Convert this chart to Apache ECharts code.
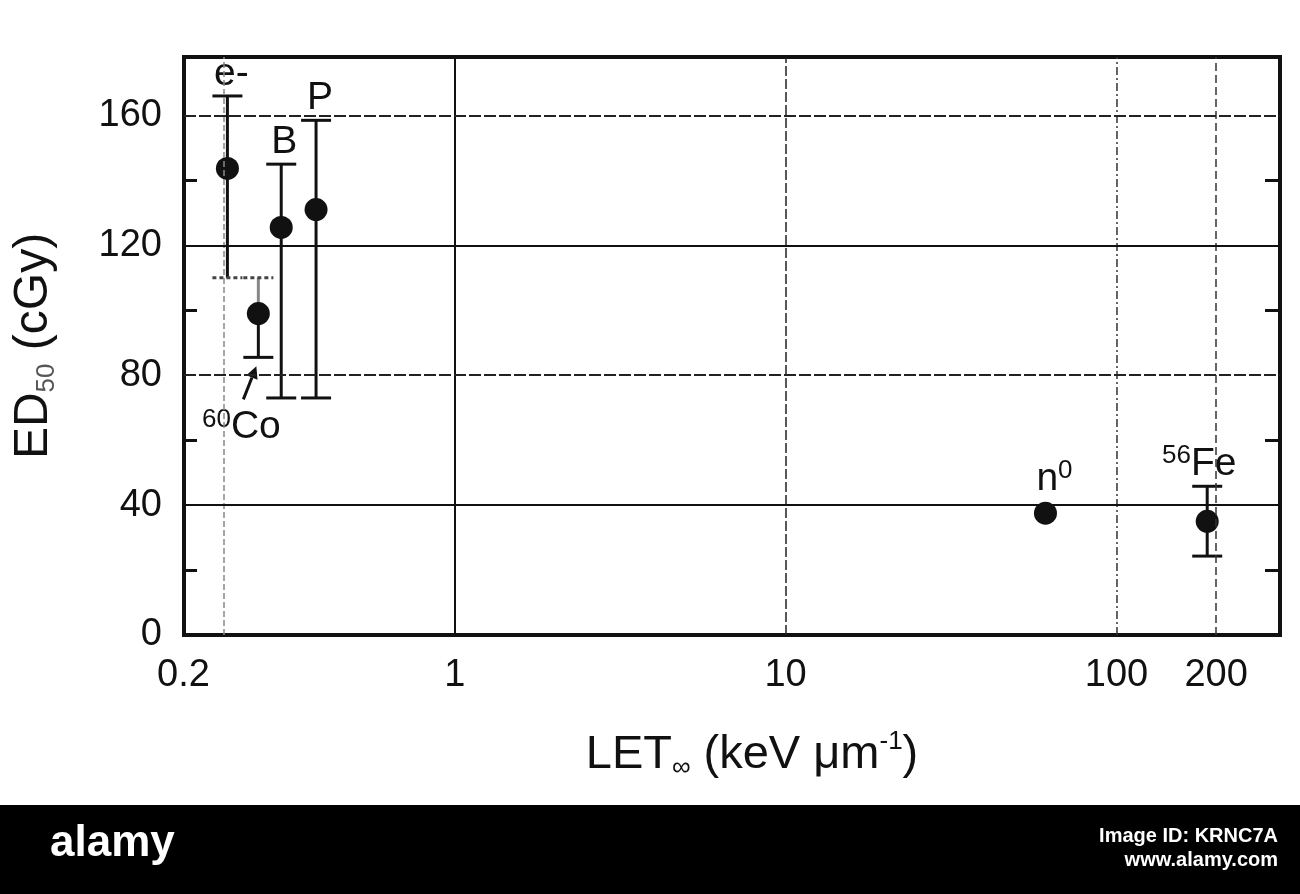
<!DOCTYPE html>
<html>
<head>
<meta charset="utf-8">
<script src="https://cdn.jsdelivr.net/npm/echarts@6/dist/echarts.min.js"></script>
<style>html,body{margin:0;padding:0;background:#fff;}#chart{width:1300px;height:894px;}</style>
</head>
<body>
<div id="chart"></div>
<script>
// ---- data ----
const species = ['e-', '60Co', 'B', 'P', 'n0', '56Fe'];
const letValues = [0.2056, 0.255, 0.299, 0.381, 61, 188];
const ed50Values = [143.7, 99, 125.5, 131, 37.5, 35];
const errLowValues = [110, 85.5, 73, 73, null, 24.3];
const errHighValues = [166, 110, 145, 158.5, null, 45.8];
const pointLabels = ['e-', '{sup|60}Co', 'B', 'P', 'n{sup|0}', '{sup|56}Fe'];
const xTickValues = [0.2, 1, 10, 100, 200];
const yTickValues = [0, 40, 80, 120, 160];
const yMinorTicks = [20, 60, 100, 140];
const xGridValues = [0.2, 1, 10, 100, 200];
const yGridValues = [40, 80, 120, 160];

// ---- styles ----
const FONT = '"Liberation Sans", Arial, Helvetica, sans-serif';
const INK = '#111';
const xGridStyles = [
  {color: '#888', width: 1.5, type: [6, 3]},
  {color: INK, width: 2, type: 'solid'},
  {color: '#222', width: 1.5, type: [10, 3]},
  {color: '#333', width: 1.5, type: [8, 3, 2, 3]},
  {color: '#333', width: 1.5, type: [8, 4]}
];
const yGridStyles = [
  {color: INK, width: 2, type: 'solid'},
  {color: '#222', width: 2, type: [12, 3]},
  {color: INK, width: 2, type: 'solid'},
  {color: '#222', width: 2, type: [12, 3]}
];

const errData = letValues.map((x, i) => [
  x, ed50Values[i],
  errLowValues[i] == null ? '-' : errLowValues[i],
  errHighValues[i] == null ? '-' : errHighValues[i]
]);
const dotData = letValues.map((x, i) => [x, ed50Values[i]]);

const labelRich = {
  sup: {fontSize: 26, fontFamily: FONT, color: INK, verticalAlign: 'top', lineHeight: 26}
};

function renderItem(params, api) {
  const i = params.dataIndex;
  const name = species[i];
  const x = api.value(0), y = api.value(1), lo = api.value(2), hi = api.value(3);
  const c = api.coord([x, y]);
  const children = [];
  const capHalf = 15;
  let topY = c[1] - 12;
  let pl = null;
  if (!isNaN(lo) && !isNaN(hi)) {
    pl = api.coord([x, lo]);
    const ph = api.coord([x, hi]);
    children.push({type: 'line', shape: {x1: c[0], y1: c[1], x2: c[0], y2: ph[1]},
      style: {stroke: name === '60Co' ? '#888' : INK, lineWidth: 3}});
    children.push({type: 'line', shape: {x1: c[0], y1: c[1], x2: c[0], y2: pl[1]},
      style: {stroke: INK, lineWidth: 3}});
    const dashedLow = name === 'e-';
    const dashedHigh = name === '60Co';
    children.push({type: 'line', shape: {x1: c[0] - capHalf, y1: ph[1], x2: c[0] + capHalf, y2: ph[1]},
      style: {stroke: dashedHigh ? '#444' : INK, lineWidth: 3, lineDash: dashedHigh ? [4, 3] : null}});
    children.push({type: 'line', shape: {x1: c[0] - capHalf, y1: pl[1], x2: c[0] + capHalf, y2: pl[1]},
      style: {stroke: dashedLow ? '#444' : INK, lineWidth: 3, lineDash: dashedLow ? [4, 3] : null}});
    topY = ph[1];
  }
  const textStyle = {
    text: pointLabels[i], fill: INK, font: '39px ' + FONT,
    align: 'center', lineHeight: 42, rich: labelRich
  };
  if (name === '60Co') {
    // label below with arrow pointing at the lower cap
    const bx = c[0], by = pl[1];
    children.push({type: 'text', x: bx - 17, y: by + 70, style: Object.assign({}, textStyle, {verticalAlign: 'middle'})});
    const x1 = bx - 15, y1 = by + 42, x2 = bx - 2, y2 = by + 9;
    const ang = Math.atan2(y2 - y1, x2 - x1);
    const ah = 12, aw = 6;
    const bxh = x2 - ah * Math.cos(ang), byh = y2 - ah * Math.sin(ang);
    children.push({type: 'line', shape: {x1: x1, y1: y1, x2: bxh, y2: byh}, style: {stroke: INK, lineWidth: 3}});
    children.push({type: 'polygon', shape: {points: [
      [x2, y2],
      [bxh + aw * Math.sin(ang), byh - aw * Math.cos(ang)],
      [bxh - aw * Math.sin(ang), byh + aw * Math.cos(ang)]
    ]}, style: {fill: INK}});
  } else {
    let dx = 0;
    if (name === 'n0') dx = 9;
    if (name === '56Fe') dx = -8;
    if (name === 'P') dx = 4;
    if (name === 'B') dx = 3;
    if (name === 'e-') dx = 4;
    children.push({type: 'text', x: c[0] + dx, y: topY - 1, style: Object.assign({}, textStyle, {verticalAlign: 'bottom'})});
  }
  return {type: 'group', children: children};
}

const chart = echarts.init(document.getElementById('chart'), null, {renderer: 'canvas'});
const option = {
  backgroundColor: '#fff',
  animation: false,
  grid: {left: 180, top: 57, right: 20, bottom: 259, show: true, borderColor: INK, borderWidth: 4, backgroundColor: 'transparent'},
  xAxis: {
    type: 'log', logBase: 10, min: 0.152, max: 312,
    axisLine: {show: false}, axisTick: {show: false}, splitLine: {show: false}, minorTick: {show: false},
    axisLabel: {
      customValues: xTickValues, margin: 22, color: INK, fontSize: 38, fontFamily: FONT,
      formatter: function (v) {
        if (Math.abs(v - 0.2) < 1e-6) return '{l|0.2}';
        return String(Math.round(v));
      },
      rich: {l: {fontSize: 38, fontFamily: FONT, color: INK, padding: [0, 80, 0, 0]}}
    },
    name: 'LET{sub|∞} (keV μm{sup|-1})', nameLocation: 'middle', nameGap: 94,
    nameTextStyle: {
      fontSize: 47, fontFamily: FONT, color: INK, lineHeight: 52, padding: [0, 0, 0, 40],
      rich: {
        sub: {fontSize: 26, fontFamily: FONT, color: INK, verticalAlign: 'bottom', lineHeight: 28},
        sup: {fontSize: 26, fontFamily: FONT, color: INK, verticalAlign: 'top', lineHeight: 28}
      }
    }
  },
  yAxis: [{
    type: 'value', min: 0, max: 178,
    axisLine: {show: false},
    axisTick: {show: true, inside: true, length: 13, customValues: yMinorTicks, lineStyle: {color: INK, width: 3}},
    splitLine: {show: false},
    axisLabel: {customValues: yTickValues, margin: 22, color: INK, fontSize: 38, fontFamily: FONT},
    name: 'ED{sub|50} (cGy)', nameLocation: 'middle', nameGap: 124, nameRotate: 90,
    nameTextStyle: {
      fontSize: 48, fontFamily: FONT, color: INK, lineHeight: 52,
      rich: {sub: {fontSize: 26, fontFamily: FONT, color: '#555', verticalAlign: 'bottom', lineHeight: 28}}
    }
  }, {
    type: 'value', min: 0, max: 178, position: 'right',
    axisLine: {show: false},
    axisTick: {show: true, inside: true, length: 15, customValues: yMinorTicks, lineStyle: {color: INK, width: 3}},
    splitLine: {show: false},
    axisLabel: {show: false}
  }],
  series: [{
    type: 'scatter', name: 'grid', data: [], silent: true,
    markLine: {
      silent: true, symbol: ['none', 'none'], label: {show: false}, animation: false,
      data: xGridValues.map((v, k) => ({xAxis: v, lineStyle: xGridStyles[k]}))
        .concat(yGridValues.map((v, k) => ({yAxis: v, lineStyle: yGridStyles[k]})))
    }
  }, {
    type: 'custom', name: 'error', renderItem: renderItem, data: errData, z: 3,
    encode: {x: 0, y: 1}, silent: true
  }, {
    type: 'scatter', name: 'ED50', data: dotData, symbol: 'circle', symbolSize: 23, z: 4,
    itemStyle: {color: INK, opacity: 1}
  }],
  graphic: [
    {type: 'rect', left: 0, top: 805, shape: {width: 1300, height: 89}, style: {fill: '#000'}, z: 10},
    {type: 'text', left: 50, top: 822, style: {text: 'alamy', fill: '#fff', font: 'bold 44px ' + FONT}, z: 11},
    {type: 'text', right: 22, top: 826, style: {text: 'Image ID: KRNC7A', fill: '#fff', font: 'bold 20px ' + FONT, align: 'right'}, z: 11},
    {type: 'text', right: 22, top: 850, style: {text: 'www.alamy.com', fill: '#fff', font: 'bold 20px ' + FONT, align: 'right'}, z: 11}
  ]
};
chart.setOption(option);
</script>
</body>
</html>
